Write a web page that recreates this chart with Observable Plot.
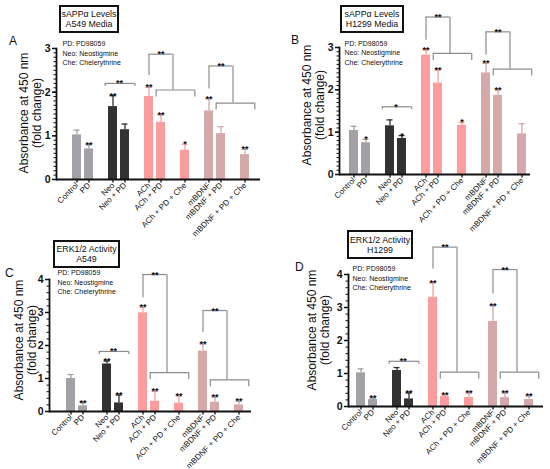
<!DOCTYPE html>
<html>
<head>
<meta charset="utf-8">
<script src="https://cdn.jsdelivr.net/npm/d3@7"></script>
<script src="https://cdn.jsdelivr.net/npm/@observablehq/plot@0.6"></script>
<style>
  body { margin: 0; background: #fff; font-family: "Liberation Sans", Arial, sans-serif; }
  #fig { position: relative; width: 550px; height: 469px; overflow: hidden; }
  .panel { position: absolute; width: 275px; height: 235px; }
  .title { position: absolute; border: 2px solid #111; background: #fff; text-align: center; white-space: nowrap;
           font-size: 8.8px; line-height: 10px; box-sizing: border-box; color: #111;
           display: flex; flex-direction: column; justify-content: center; }
  .letter { position: absolute; font-size: 12px; line-height: 12px; color: #111; }
  .ylab { position: absolute; white-space: nowrap; text-align: center; font-size: 12px; line-height: 12.5px;
          color: #111; transform: translate(-50%, -50%) rotate(-90deg); }
</style>
</head>
<body>
<div id="fig"></div>
<script>
const groups = ["Control", "PD", "Neo", "Neo + PD", "ACh", "ACh + PD", "ACh + PD + Che", "mBDNF", "mBDNF + PD", "mBDNF + PD + Che"];
const fills = ["#a3a1a6", "#a3a1a6", "#323232", "#323232", "#fd9c9c", "#fd9c9c", "#fd9c9c", "#d5a9aa", "#d5a9aa", "#d5a9aa"];
// blank bands between groups of bars
const xDomain = ["Control", "PD", "gap1", "Neo", "Neo + PD", "gap2", "ACh", "ACh + PD", "gap3", "ACh + PD + Che", "gap4", "mBDNF", "mBDNF + PD", "gap5", "mBDNF + PD + Che"];

// A: sAPPa A549
const meanA = [1.02, 0.70, 1.67, 1.14, 1.90, 1.31, 0.67, 1.57, 1.05, 0.57];
const errA  = [0.11, 0.10, 0.25, 0.13, 0.21, 0.17, 0.14, 0.28, 0.16, 0.12];
const starA = ["", "**", "**", "", "**", "**", "*", "**", "", "**"];
// B: sAPPa H1299
const meanB = [1.04, 0.75, 1.15, 0.85, 2.82, 2.16, 1.16, 2.40, 1.87, 0.96];
const errB  = [0.10, 0.08, 0.14, 0.07, 0.13, 0.31, 0.07, 0.23, 0.13, 0.24];
const starB = ["", "*", "", "*", "**", "**", "*", "**", "**", ""];
// C: ERK1/2 A549
const meanC = [1.00, 0.17, 1.44, 0.26, 2.99, 0.31, 0.25, 1.83, 0.28, 0.20];
const errC  = [0.12, 0.10, 0.09, 0.24, 0.17, 0.30, 0.23, 0.22, 0.16, 0.11];
const starC = ["", "**", "**", "**", "**", "**", "**", "**", "**", "**"];
// D: ERK1/2 H1299
const meanD = [1.02, 0.21, 1.09, 0.23, 3.31, 0.30, 0.27, 2.58, 0.27, 0.21];
const errD  = [0.12, 0.05, 0.09, 0.18, 0.44, 0.05, 0.14, 0.48, 0.14, 0.11];
const starD = ["", "**", "", "**", "**", "**", "**", "**", "**", "**"];

// bracket heights: Neo line, ACh start, ACh top, ACh lower, mBDNF start, mBDNF top, mBDNF lower
const bracketA = [2.20, 2.38, 2.87, 2.05, 2.07, 2.60, 1.75];
const bracketB = [1.60, 3.17, 3.72, 2.86, 2.82, 3.37, 2.49];
const bracketC = [1.82, 3.45, 4.15, 1.18, 2.40, 3.06, 0.96];
const bracketD = [1.37, 4.17, 4.83, 1.04, 3.41, 4.15, 1.04];
const neoSig = ["**", "*", "**", "**"];

const legendText = "PD: PD98059\nNeo: Neostigmine\nChe: Chelerythrine";
const yLabel = ["Absorbance at 450 nm", "(fold change)"];
const gray = "#8c8c8c";

function panel(cfg) {
  const W = 275, H = 235;
  const rows = groups.map((g, i) => ({g, v: cfg.mean[i], e: cfg.err[i], s: cfg.star[i], c: fills[i]}));
  const unit = cfg.yMax / (H - cfg.mb - cfg.mt);
  const h = cfg.bw / 2;
  const [neoY, aS, aT, aL, mS, mT, mL] = cfg.br;
  const hline = (x1, x2, y, il, ir) => Plot.ruleY([y], {x1: () => x1, x2: () => x2, insetLeft: il, insetRight: ir, stroke: gray, strokeWidth: 1.2});
  const vline = (x, y1, y2, dx = 0) => Plot.ruleX([x], {y1: () => y1, y2: () => y2, dx, stroke: gray, strokeWidth: 1.2});
  const sig = (x, y, t, dx = 0) => Plot.text([t], {x: () => x, y: () => y, text: d => d, dx, dy: 3, lineAnchor: "bottom", fontSize: 9, fontWeight: "bold", fill: "#111"});
  const tk = 7 * unit;
  return Plot.plot({
    width: W, height: H,
    marginLeft: cfg.ml, marginTop: cfg.mt, marginBottom: cfg.mb, marginRight: cfg.mr,
    style: {fontFamily: "'Liberation Sans', Arial, sans-serif", color: "#111", background: "transparent", overflow: "visible"},
    x: {type: "band", domain: xDomain, range: [cfg.c0 - h, cfg.c0 + 14 * cfg.step + h],
        paddingInner: 1 - cfg.bw / cfg.step, paddingOuter: 0, axis: null},
    y: {domain: [0, cfg.yMax], axis: null},
    color: {type: "identity"},
    marks: [
      Plot.barY(rows, {x: "g", y: "v", fill: "c"}),
      Plot.ruleX(rows, {x: "g", y1: "v", y2: d => d.v + d.e, stroke: "c", strokeWidth: 1.3}),
      Plot.tickY(rows, {x: "g", y: d => d.v + d.e, stroke: "c", strokeWidth: 1.3, inset: 1.5}),
      Plot.text(rows.filter(d => d.s), {x: "g", y: d => d.v + d.e, text: "s", dy: 3, lineAnchor: "bottom", fontSize: 9, fontWeight: "bold", fill: "#111"}),
      // Neo bracket
      hline("Neo", "Neo + PD", neoY, -3, -5),
      vline("Neo", neoY, neoY - 3 * unit, -(h + 3)),
      vline("Neo + PD", neoY, neoY - 3 * unit, h + 5),
      sig("Neo", neoY, cfg.neo, cfg.step / 2),
      // ACh bracket
      vline("ACh", aS, aT),
      hline("ACh", "gap3", aT, h, h),
      vline("gap3", aT, aL),
      hline("ACh + PD", "ACh + PD + Che", aL, 0, -5),
      vline("ACh + PD", aL, aL - tk, -h),
      vline("ACh + PD + Che", aL, aL - tk, h + 5),
      sig("ACh + PD", aT, "**"),
      // mBDNF bracket
      vline("mBDNF", mS, mT),
      hline("mBDNF", "gap5", mT, h, h),
      vline("gap5", mT, mL),
      hline("mBDNF + PD", "mBDNF + PD + Che", mL, 0, -5),
      vline("mBDNF + PD", mL, mL - tk, -h),
      vline("mBDNF + PD + Che", mL, mL - tk, h + 5),
      sig("mBDNF + PD", mT, "**"),
      // axes
      Plot.axisY({ticks: d3.range(0, cfg.yMax + 1e-9, cfg.minor), tickSize: 2.5, tickFormat: () => "", strokeWidth: 1, label: null}),
      Plot.axisY({ticks: d3.range(0, cfg.yMax + 1), tickFormat: d => String(d), tickSize: 4, tickPadding: 2, fontSize: 10.5, fontWeight: "bold", strokeWidth: 1.5, label: null}),
      Plot.axisX({ticks: groups, tickRotate: -45, tickSize: 3.5, tickPadding: 1, fontSize: 8, strokeWidth: 1.3, label: null}),
      Plot.ruleY([0], {strokeWidth: 1.8}),
      Plot.frame({anchor: "left", strokeWidth: 1.8}),
      Plot.text([legendText], {frameAnchor: "top-left", textAnchor: "start", lineAnchor: "top", dx: cfg.legDx, dy: cfg.legDy, fontSize: 7, lineHeight: 1.35, text: d => d})
    ]
  });
}

const panels = [
  {left: 0, top: 0, mean: meanA, err: errA, star: starA, br: bracketA, neo: neoSig[0], yMax: 3, minor: 0.1,
   ml: 56, mt: 48, mb: 56, mr: 15, c0: 69.5, step: 12.95, bw: 9.7, legDx: 6, legDy: -9, ylab: [30, 113],
   title: ["sAPPα Levels", "A549 Media"], tbox: [59, 5, 60, 28], letter: "A", lpos: [9, 35]},
  {left: 275, top: 0, mean: meanB, err: errB, star: starB, br: bracketB, neo: neoSig[1], yMax: 3, minor: 0.1,
   ml: 64, mt: 47, mb: 61, mr: 20, c0: 78.0, step: 12.1, bw: 9.5, legDx: 5, legDy: -8.5, ylab: [313, 105],
   title: ["sAPPα Levels", "H1299 Media"], tbox: [340, 5, 64, 28], letter: "B", lpos: [291, 34]},
  {left: 0, top: 235, mean: meanC, err: errC, star: starC, br: bracketC, neo: neoSig[2], yMax: 4, minor: 0.2,
   ml: 49, mt: 44, mb: 59, mr: 24, c0: 64.5, step: 12.8, bw: 9.5, legDx: 8, legDy: -11, ylab: [25, 340],
   title: ["ERK1/2 Activity", "A549"], tbox: [53, 240, 67, 28], letter: "C", lpos: [5, 267]},
  {left: 275, top: 235, mean: meanD, err: errD, star: starD, br: bracketD, neo: neoSig[3], yMax: 4, minor: 0.2,
   ml: 73, mt: 39, mb: 64, mr: 7, c0: 82.1, step: 12.47, bw: 9.5, legDx: 4, legDy: -10, ylab: [318, 330],
   title: ["ERK1/2 Activity", "H1299"], tbox: [347, 230, 66, 29], letter: "D", lpos: [295, 261]}
];

const fig = d3.select("#fig");
for (const p of panels) {
  fig.append("div").attr("class", "panel").style("left", p.left + "px").style("top", p.top + "px")
    .append(() => panel(p));
  const t = fig.append("div").attr("class", "title")
    .style("left", p.tbox[0] + "px").style("top", p.tbox[1] + "px")
    .style("width", p.tbox[2] + "px").style("height", p.tbox[3] + "px");
  p.title.forEach(s => t.append("div").text(s));
  const yl = fig.append("div").attr("class", "ylab")
    .style("left", p.ylab[0] + "px").style("top", p.ylab[1] + "px");
  yLabel.forEach(s => yl.append("div").text(s));
  fig.append("div").attr("class", "letter")
    .style("left", p.lpos[0] + "px").style("top", p.lpos[1] + "px").text(p.letter);
}
</script>
</body>
</html>
